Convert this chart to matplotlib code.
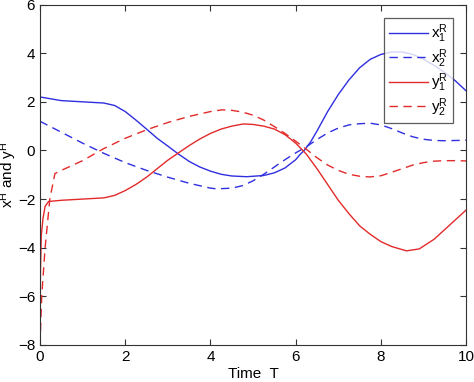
import matplotlib
matplotlib.use("Agg")
import matplotlib.pyplot as plt

plt.rcParams['font.family'] = ['Liberation Sans', 'DejaVu Sans']
plt.rcParams['mathtext.fontset'] = 'custom'
plt.rcParams['mathtext.rm'] = 'Liberation Sans'
plt.rcParams['mathtext.it'] = 'Liberation Sans'

# x1^R (blue solid)
t_x1 = [0, 0.5, 1, 1.5, 1.75, 2, 2.25, 2.5, 2.75, 3, 3.25, 3.5, 3.75, 4, 4.25, 4.5, 4.85,
        5.25, 5.5, 5.75, 6, 6.1, 6.2, 6.35, 6.5, 6.75, 7, 7.25, 7.5, 7.75, 8, 8.25, 8.5,
        8.75, 9, 9.25, 9.5, 9.75, 10]
x1 = [2.2, 2.05, 2.0, 1.95, 1.85, 1.6, 1.25, 0.88, 0.5, 0.18, -0.15, -0.45, -0.68, -0.85,
      -0.98, -1.05, -1.08, -1.03, -0.92, -0.72, -0.38, -0.17, 0.0, 0.35, 0.8, 1.6, 2.3,
      2.9, 3.4, 3.75, 3.95, 4.05, 4.05, 3.95, 3.75, 3.5, 3.2, 2.86, 2.45]

# x2^R (blue dashed)
t_x2 = [0, 0.5, 1, 1.5, 2, 2.5, 3, 3.5, 4, 4.15, 4.5, 4.75, 5, 5.25, 5.5, 5.75, 6, 6.25,
        6.5, 6.75, 7, 7.25, 7.5, 7.75, 8, 8.25, 8.5, 8.75, 9, 9.25, 9.5, 9.75, 10]
x2 = [1.2, 0.75, 0.3, -0.12, -0.5, -0.82, -1.1, -1.35, -1.55, -1.58, -1.55, -1.45, -1.25,
      -0.98, -0.68, -0.38, -0.1, 0.15, 0.45, 0.72, 0.92, 1.05, 1.1, 1.12, 1.05, 0.9,
      0.72, 0.56, 0.46, 0.41, 0.4, 0.41, 0.42]

# y1^R (red solid)
t_y1 = [0, 0.01, 0.03, 0.07, 0.12, 0.2, 0.5, 1, 1.5, 1.75, 2, 2.25, 2.5, 2.75, 3, 3.25, 3.5,
        3.75, 4, 4.25, 4.5, 4.77, 5, 5.25, 5.5, 5.75, 6, 6.25, 6.5, 6.75, 7, 7.25, 7.5,
        7.75, 8, 8.25, 8.6, 8.9, 9.25, 9.5, 9.75, 10]
y1 = [-8, -5, -3.5, -2.8, -2.3, -2.1, -2.05, -2.0, -1.95, -1.85, -1.65, -1.4, -1.1, -0.75,
      -0.4, -0.1, 0.2, 0.47, 0.7, 0.88, 1.0, 1.09, 1.07, 1.0, 0.88, 0.65, 0.3, -0.15,
      -0.75, -1.4, -2.05, -2.6, -3.1, -3.45, -3.75, -3.95, -4.13, -4.05, -3.65, -3.25,
      -2.85, -2.45]

# y2^R (red dashed)
t_y2 = [0, 0.04, 0.12, 0.23, 0.35, 0.5, 1, 1.5, 2, 2.5, 3, 3.5, 4, 4.27, 4.5, 4.75, 5,
        5.25, 5.5, 5.75, 6, 6.25, 6.5, 6.75, 7, 7.25, 7.5, 7.74, 8, 8.25, 8.5, 8.75, 9,
        9.25, 9.5, 9.75, 10]
y2 = [-8, -6, -4, -2, -0.95, -0.82, -0.42, 0.08, 0.5, 0.85, 1.15, 1.4, 1.6, 1.67, 1.65,
      1.58, 1.45, 1.25, 0.98, 0.7, 0.38, 0.05, -0.3, -0.6, -0.82, -0.98, -1.06, -1.09,
      -1.04, -0.9, -0.75, -0.6, -0.5, -0.44, -0.42, -0.42, -0.43]

blue = '#2f2fe0'
red = '#e32a2a'

fig = plt.figure(figsize=(4.74, 3.82), dpi=100)
ax = fig.add_axes([0.0844, 0.097, 0.899, 0.891])

ax.plot(t_x1, x1, color=blue, lw=1.0, label=r'$\mathregular{x_1^R}$')
ax.plot(t_x2, x2, color=blue, lw=1.0, ls=(0, (6, 4)), label=r'$\mathregular{x_2^R}$')
ax.plot(t_y1, y1, color=red, lw=1.0, label=r'$\mathregular{y_1^R}$')
ax.plot(t_y2, y2, color=red, lw=1.0, ls=(0, (6, 4)), label=r'$\mathregular{y_2^R}$')

ax.set_xlim(0, 10)
ax.set_ylim(-8, 6)
ax.set_xticks(range(0, 11, 2))
ax.set_yticks(range(-8, 7, 2))
ax.tick_params(direction='in', top=True, right=True, labelsize=11, length=4, color='#333333')
for s in ax.spines.values():
    s.set_color('#333333')

ax.set_xlabel('Time  T', fontsize=11, labelpad=2)
ax.set_ylabel(r'$\mathregular{x^H}$ and $\mathregular{y^H}$', fontsize=11)
ax.yaxis.set_label_coords(-0.05, 0.5)

leg = ax.legend(loc='upper right', bbox_to_anchor=(0.969, 0.96), borderaxespad=0,
                fontsize=11, frameon=True, fancybox=False, edgecolor='#333333',
                handlelength=2.6, borderpad=0.3, labelspacing=0.12, handletextpad=0.2)
leg.get_frame().set_linewidth(0.9)

fig.savefig('out.png', dpi=100)
